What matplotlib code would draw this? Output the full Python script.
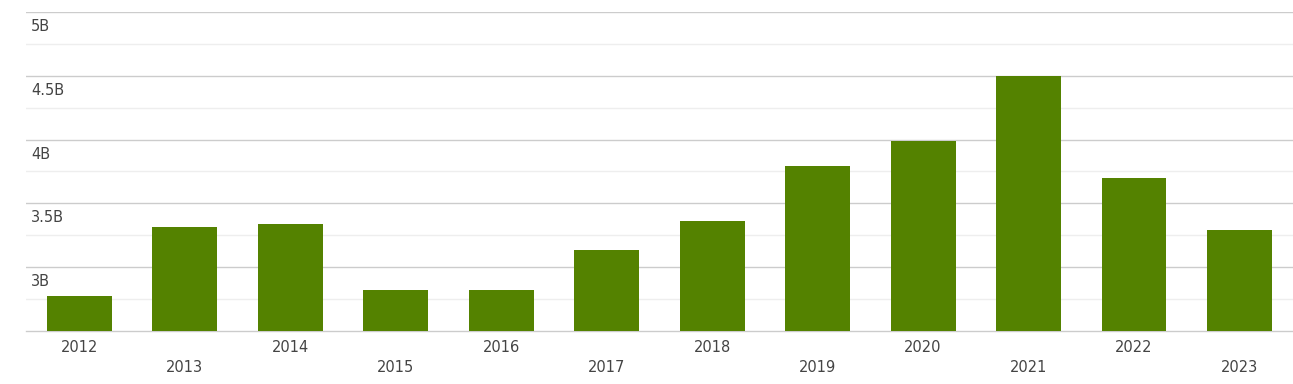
import matplotlib
matplotlib.use("Agg")
import matplotlib.pyplot as plt
import numpy as np

years = ["2012", "2013", "2014", "2015", "2016", "2017",
         "2018", "2019", "2020", "2021", "2022", "2023"]
values = [2.77e9, 3.31e9, 3.34e9, 2.82e9, 2.82e9, 3.13e9,
          3.36e9, 3.79e9, 3.99e9, 4.50e9, 3.70e9, 3.29e9]
major_ticks = [3.0e9, 3.5e9, 4.0e9, 4.5e9, 5.0e9]
major_labels = ["3B", "3.5B", "4B", "4.5B", "5B"]
minor_ticks = [2.75e9, 3.25e9, 3.75e9, 4.25e9, 4.75e9]

bar_color = "#548200"
text_color = "#444444"

fig = plt.figure(figsize=(12.93, 3.84), dpi=100)
ax = fig.add_axes([26 / 1293, 1 - 330.5 / 384, 1 - 26 / 1293, (330.5 - 12.3) / 384])

x = np.arange(len(years))
ax.bar(x, values, width=0.615, color=bar_color, zorder=3)

ax.set_xlim(-0.507, 11.508)
ax.set_ylim(2.5e9, 5.0e9)

# gridlines
for v in major_ticks:
    ax.axhline(v, color="#cccccc", lw=1, zorder=1)
for v in minor_ticks:
    ax.axhline(v, color="#eeeeee", lw=1, zorder=1)

for s in ["top", "left", "right"]:
    ax.spines[s].set_visible(False)
ax.spines["bottom"].set_color("#cccccc")
ax.spines["bottom"].set_linewidth(1)

ax.set_yticks([])
for v, lab in zip(major_ticks, major_labels):
    ax.annotate(lab, xy=(0, v), xycoords=("axes fraction", "data"),
                xytext=(5, -7), textcoords="offset pixels",
                ha="left", va="top", fontsize=10.5, color=text_color, zorder=4)

labels = [y if i % 2 == 0 else "\n" + y for i, y in enumerate(years)]
ax.set_xticks(x)
ax.set_xticklabels(labels, fontsize=10.5, color=text_color, linespacing=1.4)
ax.tick_params(axis="x", length=0, pad=7)

plt.savefig("out.png", dpi=100)
plt.close()
